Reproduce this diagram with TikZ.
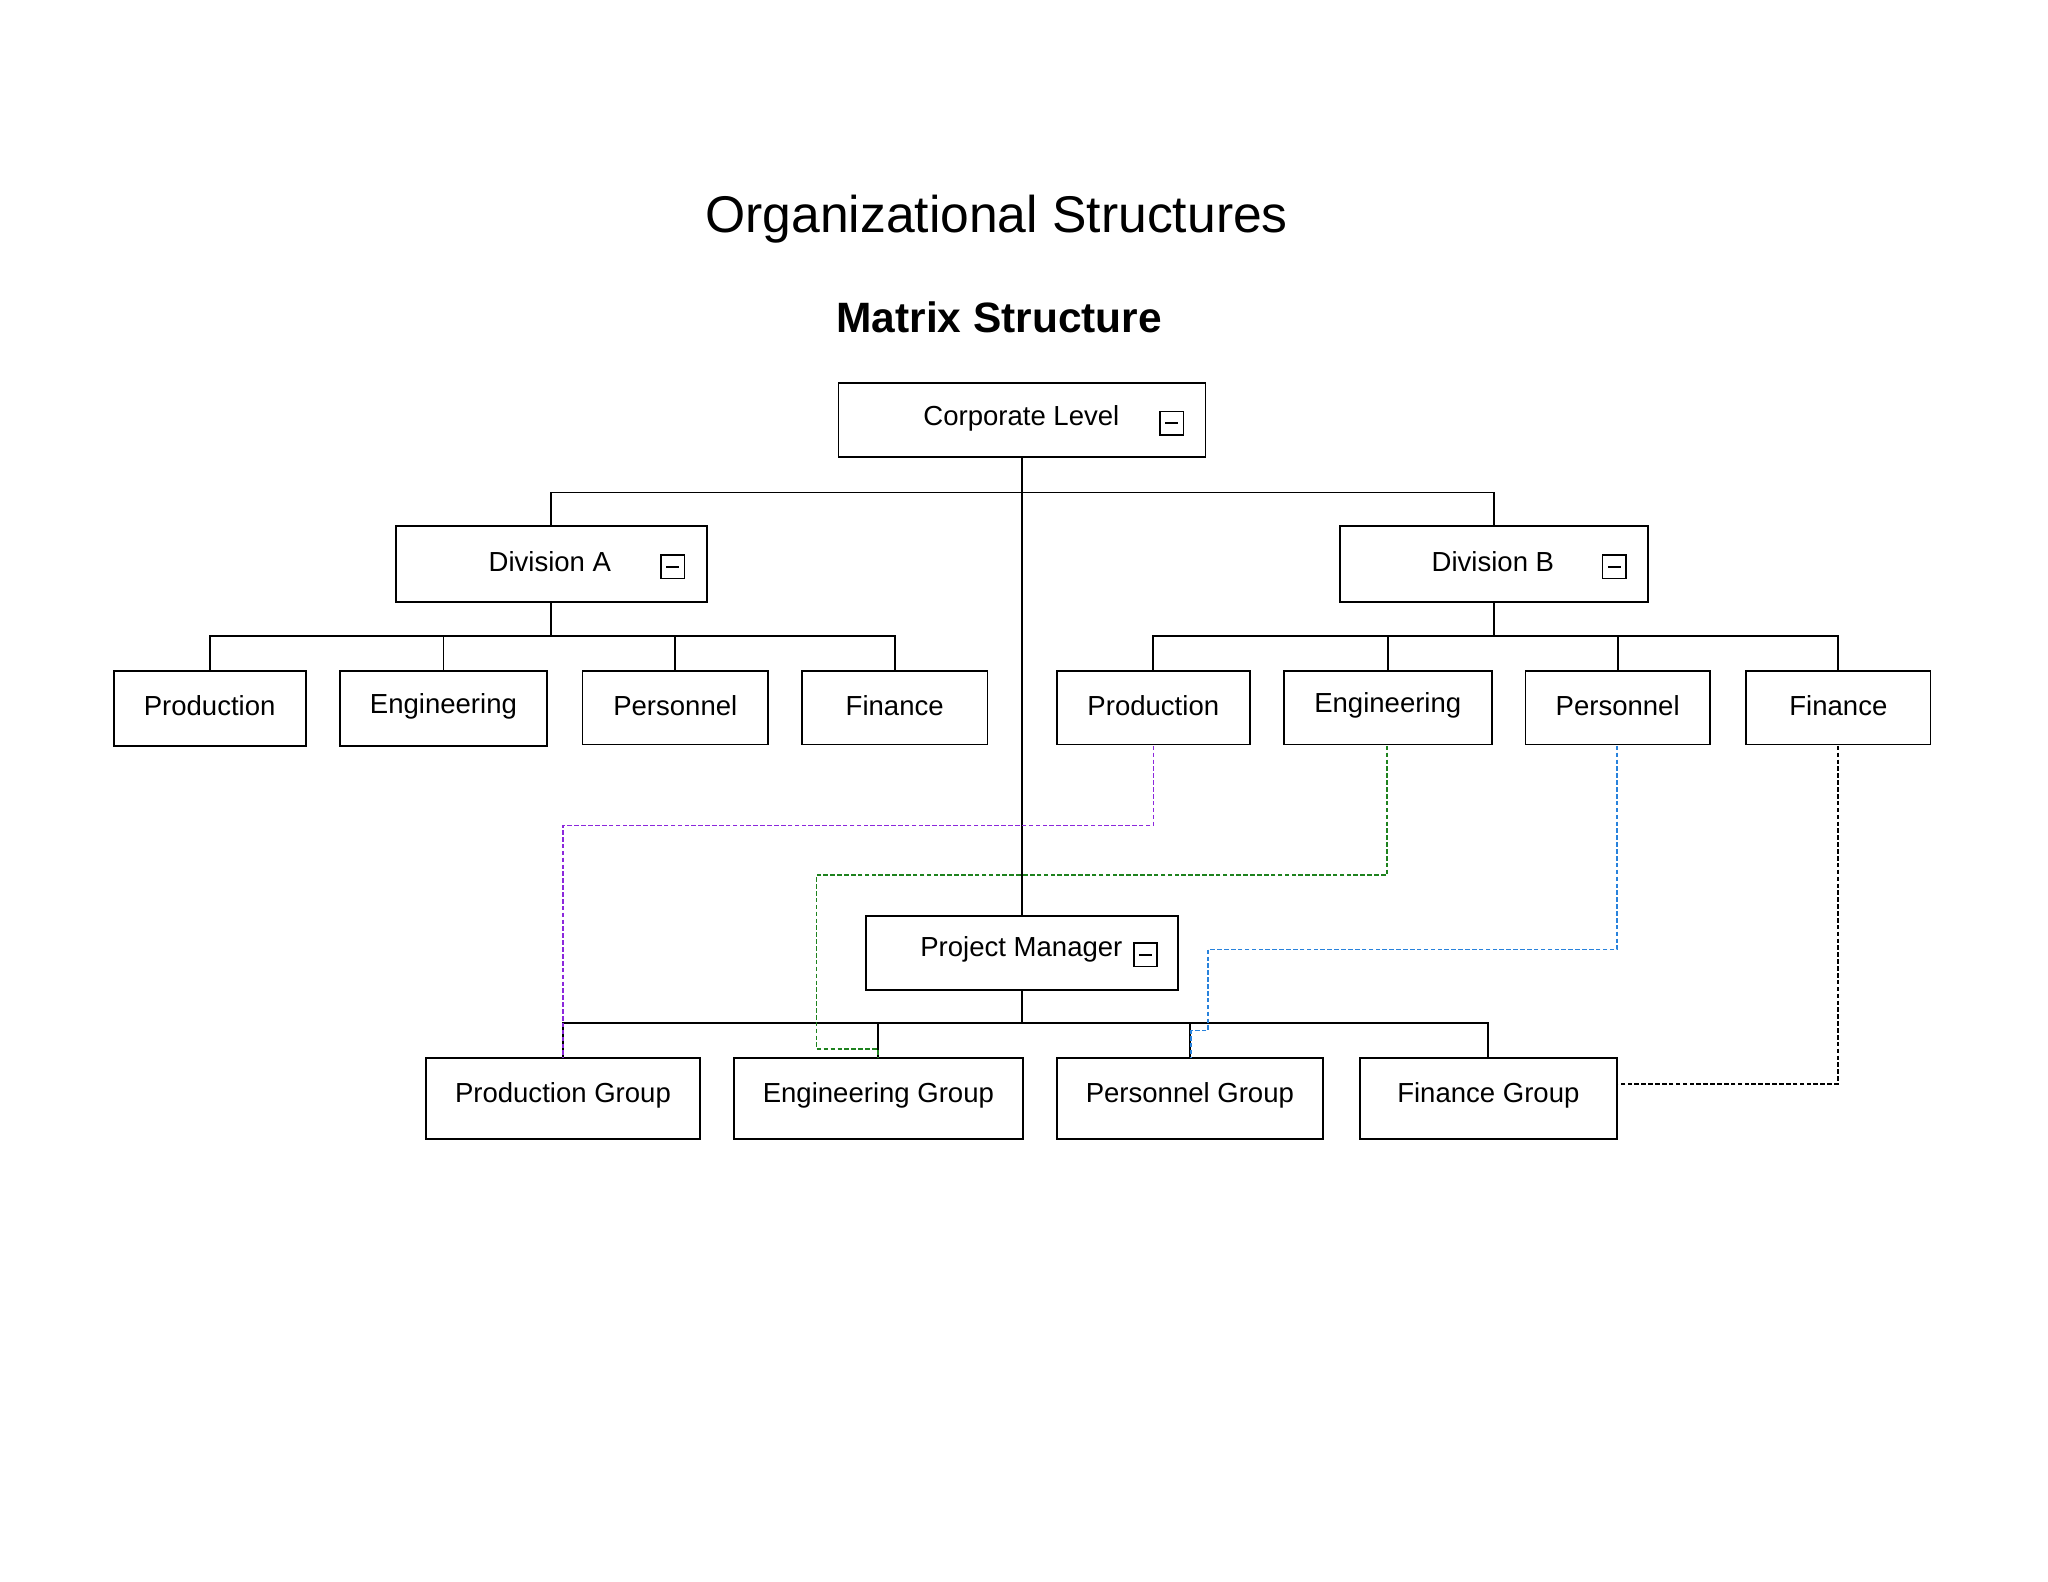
\documentclass[tikz,border=0pt]{standalone}
\usepackage{fontspec}
\setmainfont{Liberation Sans}
\begin{document}
\begin{tikzpicture}[x=0.02cm,y=-0.02cm,
  lbl/.style={font=\fontsize{12}{14}\selectfont},
  conn/.style={line width=0.8pt},
  dl/.style={line width=0.7pt,dash pattern=on 2pt off 1pt}]
\useasboundingbox (0,0) rectangle (1568,1211);
\newcommand\mybox[6]{% name, x1,y1,x2,y2,text
  \draw[line width=0.8pt] (#2,#3) rectangle (#4,#5);
  \coordinate (#1-n) at ({(#2+#4)/2},#3);
  \coordinate (#1-s) at ({(#2+#4)/2},#5);
  \node[lbl] (#1) at ({(#2+#4)/2},{(#3+#5)/2-2}) {#6};}
\newcommand\minus[2]{\draw[line width=0.7pt] (#1-9,#2-9) rectangle (#1+9,#2+9); \draw[line width=0.7pt] (#1-5,#2) -- (#1+5,#2);}
\node[font=\fontsize{22.5}{26}\selectfont] (title) at (763,168) {Organizational Structures};
\node[font=\bfseries\fontsize{18.5}{22}\selectfont] (sub) at (765,243) {Matrix Structure};
\mybox{cl}{642}{293}{923}{350}{}
\node[lbl] at (782,320) {Corporate Level};
\minus{897}{324}
\mybox{da}{303}{403}{541}{461}{}
\node[lbl] at (421,430) {Division A}; \minus{515}{434}
\mybox{db}{1026}{403}{1262}{461}{}
\node[lbl] at (1143,430) {Division B}; \minus{1236}{434}
\mybox{ap}{87}{514}{234}{571}{Production}
\mybox{ae}{260}{514}{419}{571}{Engineering}
\mybox{aq}{446}{514}{588}{570}{Personnel}
\mybox{af}{614}{514}{756}{570}{Finance}
\mybox{bp}{809}{514}{957}{570}{Production}
\mybox{be}{983}{514}{1142}{570}{Engineering}
\mybox{bq}{1168}{514}{1309}{570}{Personnel}
\mybox{bf}{1337}{514}{1478}{570}{Finance}
\mybox{pm}{663}{701}{902}{758}{}
\node[lbl] at (782,727) {Project Manager}; \minus{877}{731}
\mybox{pg}{326}{810}{536}{872}{Production Group}
\mybox{eg}{562}{810}{783}{872}{Engineering Group}
\mybox{qg}{809}{810}{1013}{872}{Personnel Group}
\mybox{fg}{1041}{810}{1238}{872}{Finance Group}
% solid connectors
\draw[conn] (cl-s) -- (pm-n);
\draw[conn] (da-n) -- ++(0,-26) -| (db-n);
\draw[conn] (da-s) -- ++(0,26) -| (ap-n);
\draw[conn] (da-s) ++(0,26) -| (ae-n);
\draw[conn] (da-s) ++(0,26) -| (aq-n);
\draw[conn] (da-s) ++(0,26) -| (af-n);
\draw[conn] (db-s) -- ++(0,26) -| (bp-n);
\draw[conn] (db-s) ++(0,26) -| (be-n);
\draw[conn] (db-s) ++(0,26) -| (bq-n);
\draw[conn] (db-s) ++(0,26) -| (bf-n);
\draw[conn] (pm-s) -- ++(0,25) -| (pg-n);
\draw[conn] (pm-s) ++(0,25) -| (eg-n);
\draw[conn] (pm-s) ++(0,25) -| (qg-n);
\draw[conn] (pm-s) ++(0,25) -| (fg-n);
% dashed matrix links
\draw[dl,color={rgb,255:red,140;green,40;blue,220}] (883,571) -- (883,632) -- (431,632) -- (431,810);
\draw[dl,color={rgb,255:red,30;green,130;blue,30}] (1062,571) -- (1062,670) -- (625,670) -- (625,803) -- (672,803) -- (672,810);
\draw[dl,color={rgb,255:red,40;green,130;blue,220}] (1238,571) -- (1238,727) -- (925,727) -- (925,789) -- (912,789) -- (912,810);
\draw[dl] (1407,571) -- (1407,830) -- (1238,830);
\end{tikzpicture}
\end{document}
